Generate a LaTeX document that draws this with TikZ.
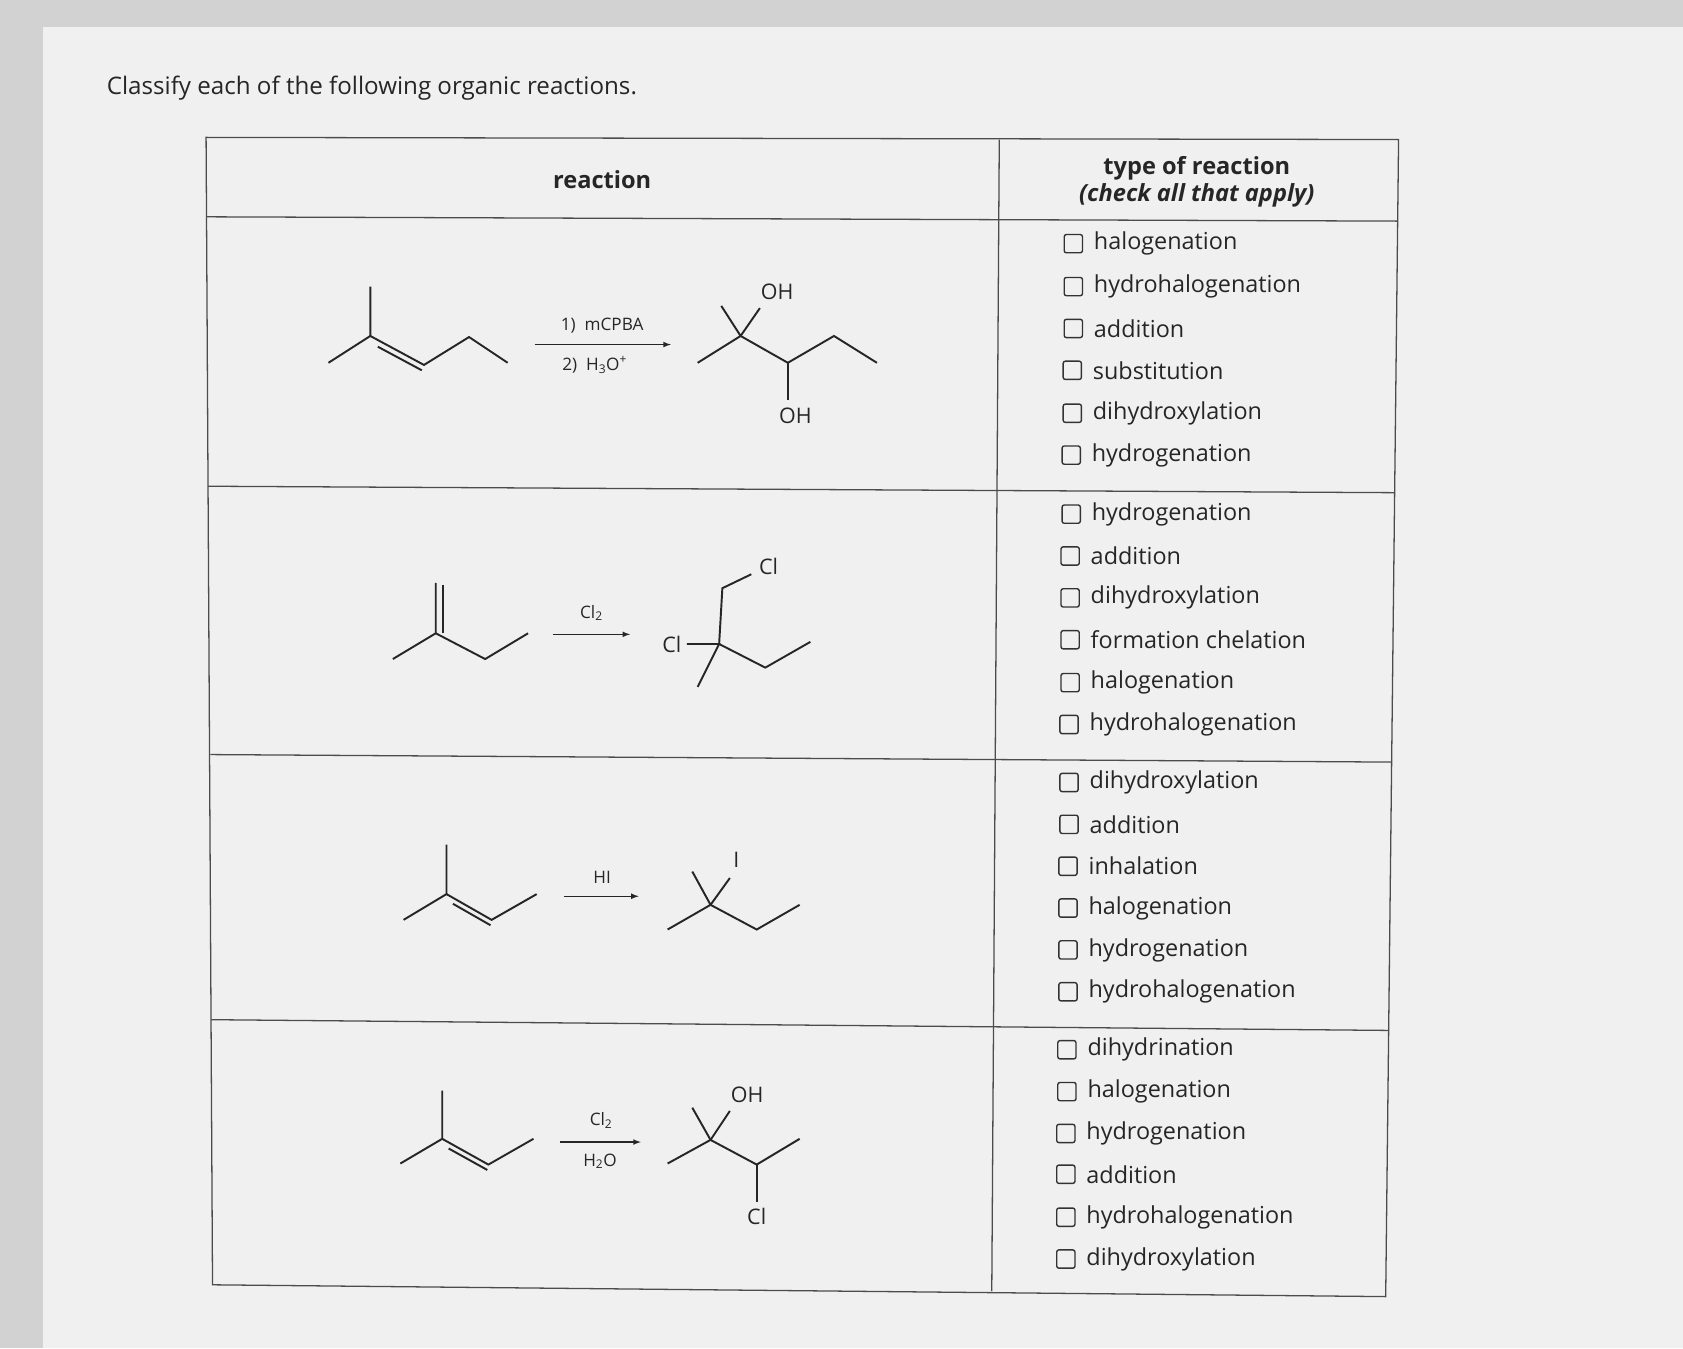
\documentclass[tikz,border=0pt]{standalone}
\usepackage{fontspec}
\setmainfont{Open Sans}
\begin{document}
\begin{tikzpicture}[x=1pt,y=-1pt,
 bond/.style={line width=1.8pt,black!85},
 grid/.style={line width=1.2pt,black!70},
 rarrow/.style={line width=1.4pt,-latex,black!85},
 chk/.style={draw=black!80,line width=1.3pt,rounded corners=2pt,minimum size=17pt,inner sep=0pt},
 opt/.style={anchor=west,font=\fontsize{21.8}{24}\selectfont,text=black!85,inner sep=0pt},
 lab/.style={font=\fontsize{20}{22}\selectfont,text=black!85,inner sep=0pt},
 rlab/.style={font=\fontsize{16}{19}\selectfont,text=black!85,inner sep=0pt}]
\useasboundingbox (0,0) rectangle (1568,1256);
\fill[gray!35] (0,0) rectangle (1568,1256);
\fill[gray!12] (40,25) rectangle (1568,1256);
\node[anchor=west,font=\fontsize{22.5}{26}\selectfont,text=black!85] (title) at (96,82) {Classify each of the following organic reactions.};
% table
\draw[grid] (192,128) -- (1303,130) -- (1291,1208) -- (198,1197) -- cycle;
\draw[grid] (931,130) -- (924,1203);
\draw[grid] (192,202) -- (1302,206);
\draw[grid] (194,453) -- (1299,459);
\draw[grid] (196,703) -- (1296,710);
\draw[grid] (197,950) -- (1293,960);
\node[font=\bfseries\fontsize{22}{26}\selectfont,text=black!85] (h1) at (561,167) {reaction};
\node[font=\bfseries\fontsize{22}{26}\selectfont,text=black!85] (h2) at (1115,157) {type of reaction};
\node[font=\bfseries\itshape\fontsize{22}{26}\selectfont,text=black!85] (h3) at (1115,182) {(check all that apply)};
% row 1
\draw[bond] (306,338) -- (345,313) -- (345,267);
\draw[bond] (345,313) -- (395,340) -- (437,314) -- (473,338);
\draw[bond] (352,323) -- (393,345);
\draw[rarrow] (498,321) -- (625,321);
\node[rlab] (r1a) at (561,303) {1)\ \ mCPBA};
\node[rlab] (r1b) at (554,340) {2)\ \ H\textsubscript{3}O\textsuperscript{+}};
\draw[bond] (650,338) -- (690,313) -- (672,285);
\draw[bond] (690,313) -- (708,287);
\node[lab] (oh1) at (724,272) {OH};
\draw[bond] (690,313) -- (734,338) -- (777,313) -- (817,338);
\draw[bond] (734,338) -- (734,373);
\node[lab] (oh2) at (741,387) {OH};
% row 2
\draw[bond] (366,614) -- (406,590) -- (406,543);
\draw[bond] (413,590) -- (413,545);
\draw[bond] (406,590) -- (452,614) -- (492,590);
\draw[rarrow] (515,591) -- (587,591);
\node[rlab] (r2) at (551,571) {Cl\textsubscript{2}};
\node[lab] (cl1) at (626,600) {Cl};
\draw[bond] (640,600) -- (670,600) -- (650,640);
\draw[bond] (670,600) -- (673,548) -- (700,535);
\node[lab] (cl2) at (716,528) {Cl};
\draw[bond] (670,600) -- (713,622) -- (755,598);
% row 3
\draw[bond] (376,857) -- (416,833) -- (416,787);
\draw[bond] (416,833) -- (458,857) -- (500,833);
\draw[bond] (422,842) -- (457,862);
\draw[rarrow] (525,835) -- (595,835);
\node[rlab] (r3) at (561,817) {HI};
\draw[bond] (622,866) -- (662,843) -- (645,812);
\draw[bond] (662,843) -- (680,818);
\node[lab] (i1) at (686,801) {I};
\draw[bond] (662,843) -- (705,866) -- (745,843);
% row 4
\draw[bond] (373,1084) -- (412,1061) -- (412,1016);
\draw[bond] (412,1061) -- (455,1085) -- (497,1061);
\draw[bond] (418,1070) -- (454,1090);
\draw[rarrow] (522,1064) -- (597,1064);
\node[rlab] (r4a) at (560,1044) {Cl\textsubscript{2}};
\node[rlab] (r4b) at (559,1082) {H\textsubscript{2}O};
\draw[bond] (622,1084) -- (662,1062) -- (645,1032);
\draw[bond] (662,1062) -- (680,1035);
\node[lab] (oh3) at (696,1020) {OH};
\draw[bond] (662,1062) -- (705,1085) -- (745,1061);
\draw[bond] (705,1085) -- (705,1120);
\node[lab] (cl3) at (705,1133) {Cl};
% checkboxes
\foreach \x/\y/\t [count=\i] in {
1000/227/halogenation,1000/267/hydrohalogenation,1000/306/addition,999/345/substitution,999/385/dihydroxylation,998/424/hydrogenation,
998/479/hydrogenation,997/518/addition,997/557/dihydroxylation,997/596/formation chelation,997/636/halogenation,996/675/hydrohalogenation,
996/729/dihydroxylation,996/768/addition,995/807/inhalation,995/846/halogenation,995/885/hydrogenation,995/924/hydrohalogenation,
994/978/dihydrination,994/1017/halogenation,993/1056/hydrogenation,993/1094/addition,993/1134/hydrohalogenation,993/1173/dihydroxylation}{
\node[chk] (b\i) at (\x,\y) {};
\node[opt] (t\i) at (\x+19,\y) {\t};
}
\end{tikzpicture}
\end{document}
